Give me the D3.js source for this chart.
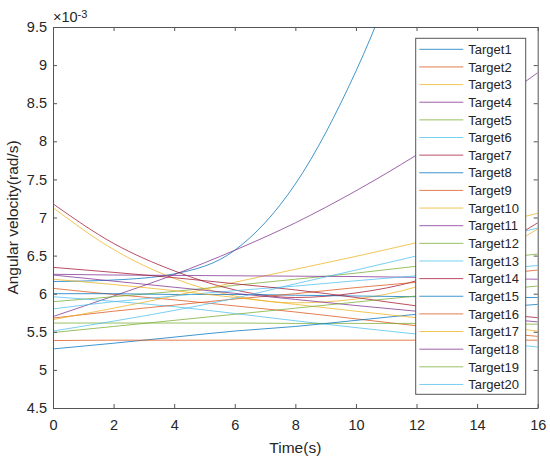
<!DOCTYPE html>
<html>
<head>
<meta charset="utf-8">
<script src="https://cdn.jsdelivr.net/npm/d3@7"></script>
<style>
    body { margin: 0; background: #fff; }
    text { font-family: "Liberation Sans", Arial, sans-serif; fill: #262626; }
</style>
</head>
<body>
<div id="chart"></div>
<script>
// time samples (s) shared by every target
var times = [0, 2, 4, 6, 8, 10, 12, 14, 16];

// angular velocity of each target, in units of 1e-3 rad/s
var target1 = [6.16, 6.18, 6.26, 6.57, 7.44, 8.92, 10.9, null, null];
var target2 = [6.07, 5.99, 5.92, 5.84, 5.76, 5.67, 5.58, 5.51, 5.44];
var target3 = [7.13, 6.58, 6.20, 5.97, 5.88, 5.93, 6.09, 6.40, 6.85];
var target4 = [5.70, 5.97, 6.25, 6.57, 6.93, 7.35, 7.82, 8.34, 8.90];
var target5 = [5.895, 5.96, 6.03, 6.11, 6.19, 6.27, 6.36, 6.44, 6.52];
var target6 = [5.96, 5.90, 5.83, 5.74, 5.645, 5.555, 5.47, 5.385, 5.30];
var target7 = [7.18, 6.66, 6.30, 6.05, 5.95, 6.01, 6.17, 6.48, 6.93];
var target8 = [6.00, 6.00, 5.99, 5.99, 5.98, 5.97, 5.96, 5.955, 5.95];
var target9 = [5.68, 5.77, 5.85, 5.93, 6.00, 6.08, 6.15, 6.23, 6.31];
var target10 = [5.66, 5.81, 5.97, 6.15, 6.32, 6.49, 6.67, 6.86, 7.055];
var target11 = [6.255, 6.245, 6.24, 6.235, 6.23, 6.225, 6.215, 6.20, 6.19];
var target12 = [5.615, 5.615, 5.615, 5.615, 5.61, 5.61, 5.61, 5.605, 5.60];
var target13 = [5.80, 5.895, 5.97, 6.04, 6.10, 6.17, 6.235, 6.30, 6.37];
var target14 = [6.346, 6.28, 6.21, 6.13, 6.05, 5.95, 5.84, 5.76, 5.685];
var target15 = [5.275, 5.35, 5.43, 5.51, 5.57, 5.65, 5.73, 5.80, 5.86];
var target16 = [5.385, 5.39, 5.39, 5.39, 5.39, 5.39, 5.39, 5.39, 5.39];
var target17 = [6.19, 6.12, 6.04, 5.95, 5.86, 5.77, 5.685, 5.60, 5.51];
var target18 = [6.245, 6.165, 6.085, 6.005, 5.925, 5.845, 5.77, 5.70, 5.63];
var target19 = [5.49, 5.57, 5.65, 5.73, 5.81, 5.89, 5.97, 6.035, 6.10];
var target20 = [5.51, 5.64, 5.78, 5.94, 6.13, 6.31, 6.495, 6.68, 6.86];

var targetNames = d3.range(1, 21).map(function (i) { return "Target" + i; });
var targetValues = [target1, target2, target3, target4, target5, target6, target7,
    target8, target9, target10, target11, target12, target13, target14,
    target15, target16, target17, target18, target19, target20];

// axis ticks
var xTicks = [0, 2, 4, 6, 8, 10, 12, 14, 16];
var yTicks = [4.5, 5, 5.5, 6, 6.5, 7, 7.5, 8, 8.5, 9, 9.5];

// MATLAB default colour order
var colorOrder = ["#0072BD", "#D95319", "#EDB120", "#7E2F8E", "#77AC30", "#4DBEEE", "#A2142F"];

var margin = { top: 27, right: 12.3, bottom: 54, left: 53 },
    width = 550 - margin.left - margin.right,
    height = 462 - margin.top - margin.bottom;

var svg = d3.select("#chart")
    .append("svg")
    .attr("width", 550)
    .attr("height", 462)
    .append("g")
    .attr("transform", "translate(" + margin.left + "," + margin.top + ")");

var x = d3.scaleLinear().domain([0, 16]).range([0, width]);
var y = d3.scaleLinear().domain([4.5, 9.5]).range([height, 0]);

svg.append("defs").append("clipPath")
    .attr("id", "plot-clip")
    .append("rect")
    .attr("width", width)
    .attr("height", height);

// lines
var line = d3.line()
    .defined(function (d) { return d.v != null; })
    .x(function (d) { return x(d.t); })
    .y(function (d) { return y(d.v); })
    .curve(d3.curveMonotoneX);

svg.append("g")
    .attr("clip-path", "url(#plot-clip)")
    .selectAll(".line")
    .data(targetValues)
    .enter()
    .append("path")
    .attr("class", "line")
    .attr("d", function (vals) {
        return line(vals.map(function (v, i) { return { t: times[i], v: v }; }));
    })
    .attr("fill", "none")
    .attr("stroke", function (d, i) { return colorOrder[i % 7]; })
    .attr("stroke-width", 1)
    .attr("stroke-opacity", 0.75);

// axes, ticks point inwards on all four sides
var axisColor = "#555";
function styleAxis(g) {
    g.select(".domain").attr("stroke", axisColor).attr("stroke-width", 1);
    g.selectAll(".tick line").attr("stroke", axisColor);
    g.selectAll(".tick text")
        .style("font-size", "14.5px")
        .style("font-family", '"Liberation Sans", Arial, sans-serif')
        .attr("fill", "#262626");
}

svg.append("g")
    .attr("transform", "translate(0," + height + ")")
    .call(d3.axisBottom(x).tickValues(xTicks).tickSizeInner(-4).tickSizeOuter(0).tickPadding(12))
    .call(styleAxis);

svg.append("g")
    .call(d3.axisTop(x).tickValues(xTicks).tickSizeInner(-4).tickSizeOuter(0).tickFormat(""))
    .call(styleAxis);

svg.append("g")
    .call(d3.axisLeft(y).tickValues(yTicks).tickSizeInner(-4).tickSizeOuter(0).tickPadding(6)
        .tickFormat(d3.format("")))
    .call(styleAxis);

svg.append("g")
    .attr("transform", "translate(" + width + ",0)")
    .call(d3.axisRight(y).tickValues(yTicks).tickSizeInner(-4).tickSizeOuter(0).tickFormat(""))
    .call(styleAxis);

// exponent label above the y axis
var expLabel = svg.append("text")
    .attr("x", 0)
    .attr("y", -5)
    .style("font-size", "14.5px");
expLabel.append("tspan").text("\u00d710");
expLabel.append("tspan")
    .attr("dy", "-0.4em")
    .style("font-size", "11px")
    .text("-3");

// axis titles
svg.append("text")
    .attr("x", width / 2)
    .attr("y", height + 45)
    .style("text-anchor", "middle")
    .style("font-size", "15.5px")
    .text("Time(s)");

svg.append("text")
    .attr("transform", "rotate(-90)")
    .attr("x", -height / 2)
    .attr("y", -35)
    .style("text-anchor", "middle")
    .style("font-size", "15.5px")
    .text("Angular velocity(rad/s)");

// legend
var legend = svg.append("g")
    .attr("transform", "translate(" + (415.7 - margin.left) + "," + (38.3 - margin.top) + ")");

legend.append("rect")
    .attr("width", 110)
    .attr("height", 356)
    .attr("fill", "#fff")
    .attr("stroke", axisColor)
    .attr("stroke-width", 1);

var item = legend.selectAll(".item")
    .data(targetNames)
    .enter()
    .append("g")
    .attr("class", "item")
    .attr("transform", function (d, i) { return "translate(0," + (11 + i * 17.64) + ")"; });

item.append("line")
    .attr("x1", 3.6)
    .attr("x2", 47.6)
    .attr("stroke", function (d, i) { return colorOrder[i % 7]; })
    .attr("stroke-width", 1)
    .attr("stroke-opacity", 0.75);

item.append("text")
    .attr("x", 52.6)
    .attr("dy", "0.36em")
    .style("font-size", "13px")
    .text(function (d) { return d; });
</script>
</body>
</html>
